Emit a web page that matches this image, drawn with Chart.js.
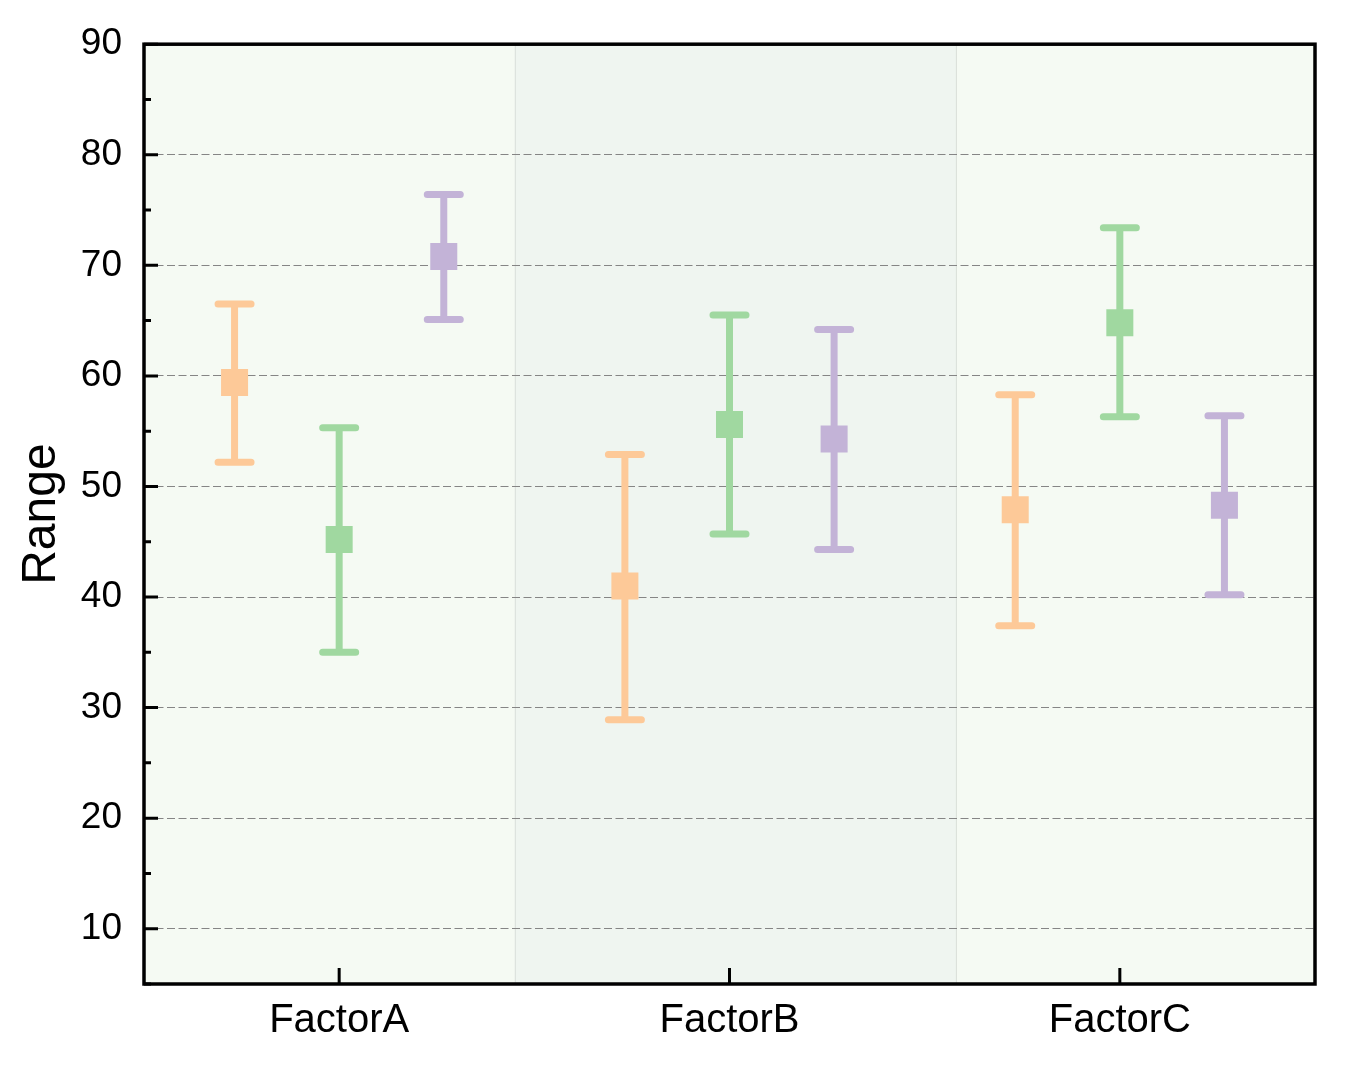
<!DOCTYPE html>
<html>
<head>
<meta charset="utf-8">
<script src="https://cdn.jsdelivr.net/npm/chart.js@4"></script>
<style>
html,body{margin:0;padding:0;background:#fff;}
canvas{display:block;}
</style>
</head>
<body>
<canvas id="c" width="1361" height="1074"></canvas>
<script>
const categories = ["FactorA", "FactorB", "FactorC"];
const yTicks = [10, 20, 30, 40, 50, 60, 70, 80, 90];
// series: [mean per category], [upper], [lower]
const orangeMean = [59.4, 41.0, 47.9];
const orangeUpper = [66.5, 52.9, 58.3];
const orangeLower = [52.2, 28.9, 37.4];
const greenMean = [45.2, 55.6, 64.8];
const greenUpper = [55.3, 65.5, 73.4];
const greenLower = [35.0, 45.7, 56.3];
const purpleMean = [70.8, 54.3, 48.3];
const purpleUpper = [76.4, 64.2, 56.4];
const purpleLower = [65.1, 44.3, 40.2];
const seriesOffsets = [-0.268, 0, 0.268];
const bandRange = [1.45, 2.58];

const colors = ["#FDC998", "#A0D8A0", "#C3B3D7"];
const series = [
  {mean: orangeMean, up: orangeUpper, lo: orangeLower},
  {mean: greenMean, up: greenUpper, lo: greenLower},
  {mean: purpleMean, up: purpleUpper, lo: purpleLower}
];

const datasets = series.map((s, si) => ({
  label: "s" + si,
  data: s.mean.map((v, ci) => ({x: ci + 1 + seriesOffsets[si], y: v})),
  pointStyle: "rect",
  pointRadius: 19.1,
  pointHoverRadius: 19.1,
  backgroundColor: colors[si],
  borderWidth: 0,
  showLine: false
}));

const customDraw = {
  id: "customDraw",
  beforeDraw(chart) {
    const {ctx, chartArea: a, scales: {x}} = chart;
    ctx.save();
    ctx.fillStyle = "#F5FAF3";
    ctx.fillRect(a.left, a.top, a.right - a.left, a.bottom - a.top);
    const b0 = x.getPixelForValue(bandRange[0]);
    const b1 = x.getPixelForValue(bandRange[1]);
    ctx.fillStyle = "#EFF5F0";
    ctx.fillRect(b0, a.top, b1 - b0, a.bottom - a.top);
    ctx.strokeStyle = "#D9DFD9";
    ctx.lineWidth = 1;
    ctx.beginPath();
    ctx.moveTo(b0 + 0.5, a.top); ctx.lineTo(b0 + 0.5, a.bottom);
    ctx.moveTo(b1 + 0.5, a.top); ctx.lineTo(b1 + 0.5, a.bottom);
    ctx.stroke();
    ctx.restore();
  },
  beforeDatasetsDraw(chart) {
    const {ctx, scales: {x, y}} = chart;
    ctx.save();
    series.forEach((s, si) => {
      ctx.strokeStyle = colors[si];
      s.mean.forEach((m, ci) => {
        const px = x.getPixelForValue(ci + 1 + seriesOffsets[si]);
        const pu = y.getPixelForValue(s.up[ci]);
        const pl = y.getPixelForValue(s.lo[ci]);
        ctx.lineWidth = 7;
        ctx.lineCap = "butt";
        ctx.beginPath();
        ctx.moveTo(px, pu); ctx.lineTo(px, pl);
        ctx.stroke();
        ctx.lineCap = "round";
        ctx.beginPath();
        ctx.moveTo(px - 16.5, pu); ctx.lineTo(px + 16.5, pu);
        ctx.moveTo(px - 16.5, pl); ctx.lineTo(px + 16.5, pl);
        ctx.stroke();
      });
    });
    ctx.restore();
  },
  afterDraw(chart) {
    const {ctx, chartArea: a, scales: {x, y}} = chart;
    ctx.save();
    ctx.strokeStyle = "#000";
    ctx.lineWidth = 3.5;
    ctx.lineCap = "butt";
    ctx.strokeRect(a.left, a.top, a.right - a.left, a.bottom - a.top);
    ctx.lineWidth = 3;
    ctx.beginPath();
    yTicks.forEach(v => {
      const py = y.getPixelForValue(v);
      ctx.moveTo(a.left, py); ctx.lineTo(a.left + 14, py);
      const pm = y.getPixelForValue(v - 5);
      ctx.moveTo(a.left, pm); ctx.lineTo(a.left + 7, pm);
    });
    categories.forEach((c, i) => {
      const px = x.getPixelForValue(i + 1);
      ctx.moveTo(px, a.bottom); ctx.lineTo(px, a.bottom - 16);
    });
    ctx.stroke();
    ctx.restore();
  }
};

new Chart(document.getElementById("c"), {
  type: "scatter",
  data: {datasets},
  plugins: [customDraw],
  options: {
    responsive: false,
    animation: false,
    devicePixelRatio: 1,
    layout: {padding: {left: 0, right: 46, top: 42, bottom: 0}},
    plugins: {legend: {display: false}, tooltip: {enabled: false}},
    scales: {
      x: {
        type: "linear",
        min: 0.5, max: 3.5,
        afterFit(s) { s.height = 90; },
        afterBuildTicks(s) { s.ticks = categories.map((c, i) => ({value: i + 1})); },
        grid: {display: false, drawTicks: false},
        border: {display: false},
        ticks: {
          padding: 13,
          color: "#000",
          font: {family: "Liberation Sans, Arial", size: 40},
          callback: (v) => categories[v - 1] || ""
        }
      },
      y: {
        min: 5, max: 90,
        afterFit(s) { s.width = 144; },
        afterBuildTicks(s) { s.ticks = yTicks.map(v => ({value: v})); },
        grid: {
          drawTicks: false,
          color: (c) => (c.tick && c.tick.value === 90) ? "rgba(0,0,0,0)" : "#858585",
          lineWidth: 1,
          tickBorderDash: [8, 3.5]
        },
        border: {display: false, dash: [8, 3.5]},
        ticks: {
          padding: 22,
          color: "#000",
          font: {family: "Liberation Sans, Arial", size: 37}
        },
        title: {
          display: true,
          text: "Range",
          color: "#000",
          font: {family: "Liberation Sans, Arial", size: 48},
          padding: {top: 13, bottom: 0}
        }
      }
    }
  }
});
</script>
</body>
</html>
